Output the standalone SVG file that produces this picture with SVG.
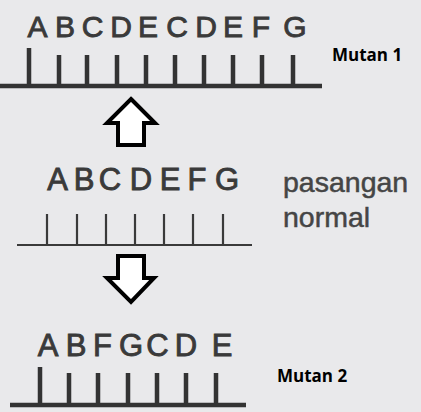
<svg xmlns="http://www.w3.org/2000/svg" width="421" height="412" viewBox="0 0 421 412">
<style>
.l{font-family:"Liberation Sans",Arial,sans-serif;fill:#3a3a3a;stroke:#3a3a3a;stroke-width:0.9;text-anchor:middle}
.lab{font-family:"Open Sans","Liberation Sans",sans-serif;font-weight:bold;font-size:17px;fill:#000}
.pn{font-family:"Liberation Sans",Arial,sans-serif;font-size:28.5px;fill:#454545;stroke:#454545;stroke-width:0.5}
.thick{stroke:#333;stroke-width:4.5;fill:none}
.thin{stroke:#3a3a3a;stroke-width:2.2;fill:none}
.arr{fill:#fff;stroke:#000;stroke-width:4;stroke-linejoin:miter}
</style>
<rect width="421" height="412" fill="#e9e9eb"/>
<g id="mutan1">
<g class="l" font-size="30">
<text x="37.5" y="37">A</text><text x="65" y="37">B</text><text x="92.5" y="37">C</text><text x="121" y="37">D</text><text x="148" y="37">E</text><text x="177" y="37">C</text><text x="206" y="37">D</text><text x="233" y="37">E</text><text x="261" y="37">F</text><text x="295" y="37">G</text>
</g>
<path class="thick" d="M0 86H322M29 86V48M59 86V55M87 86V55M117 86V55M146 86V55M175 86V55M204 86V55M233 86V55M262 86V55M293 86V55"/>
<text class="lab" x="332" y="61">Mutan 1</text>
</g>
<g id="normal">
<g class="l" font-size="31">
<text x="57.5" y="190">A</text><text x="84" y="190">B</text><text x="110" y="190">C</text><text x="141" y="190">D</text><text x="170" y="190">E</text><text x="197" y="190">F</text><text x="227" y="190">G</text>
</g>
<path class="thin" d="M17 245H252M47 245V214M77 245V214M106 245V214M135 245V214M164 245V214M193 245V214M223 245V214"/>
<text class="pn" x="283" y="192">pasangan</text>
<text class="pn" x="283" y="227">normal</text>
</g>
<g id="mutan2">
<g class="l" font-size="31">
<text x="48" y="356">A</text><text x="76" y="356">B</text><text x="102.5" y="356">F</text><text x="131" y="356">G</text><text x="157.5" y="356">C</text><text x="186" y="356">D</text><text x="222" y="356">E</text>
</g>
<path class="thick" d="M10 405H246M40 405V367M69 405V373M98 405V373M128 405V373M157 405V373M186 405V373M216 405V373"/>
<text class="lab" x="277" y="382">Mutan 2</text>
</g>
<g id="connectors">
<path class="arr" d="M131 99L155 123H144V145H118V123H107Z"/>
<path class="arr" d="M118 256H144V278H154L131 302L107 278H118Z"/>
</g>
</svg>
